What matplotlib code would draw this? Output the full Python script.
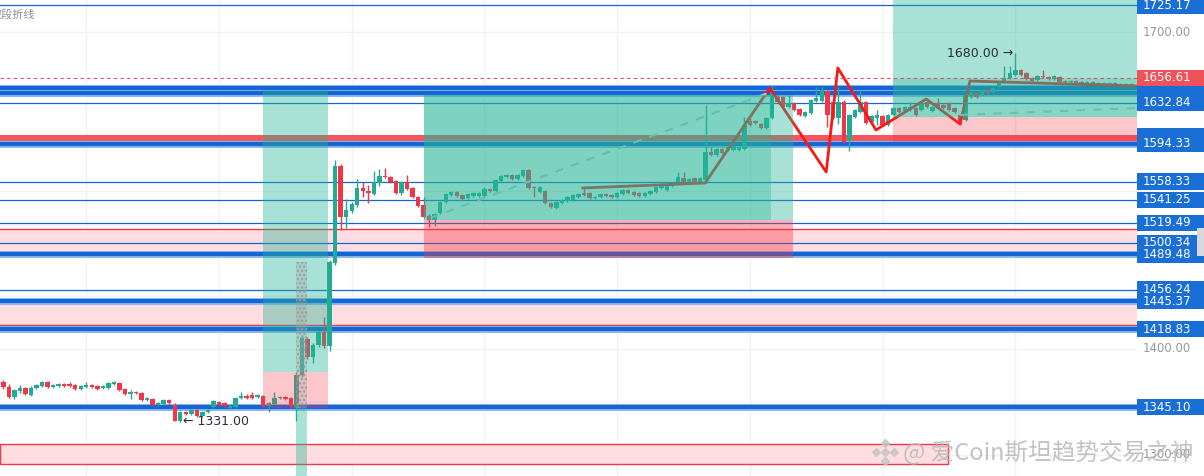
import matplotlib.pyplot as plt
from matplotlib.patches import Rectangle
from matplotlib.lines import Line2D
import numpy as np

plt.rcParams['font.family'] = ['Noto Sans CJK SC', 'DejaVu Sans']
plt.rcParams['hatch.color'] = '#9a9a9a'

# ---------------- candle data (one entry per bar) ----------------
opens = [
    1368.8, 1364.1, 1354.6, 1360.3, 1363.1, 1356.5, 1363.1, 1365.0, 1368.8, 1364.1,
    1365.0, 1366.9, 1366.9, 1365.9, 1362.2, 1364.1, 1365.9, 1365.0, 1363.1, 1363.1,
    1366.9, 1367.8, 1362.2, 1357.4, 1359.3, 1358.4, 1351.7, 1352.7, 1347.0, 1348.0,
    1351.7, 1347.0, 1331.9, 1340.4, 1338.5, 1342.3, 1336.6, 1340.4, 1345.1, 1349.9,
    1348.9, 1344.2, 1345.1, 1353.6, 1355.5, 1356.5, 1354.6, 1355.5, 1346.1, 1348.0,
    1353.6, 1354.6, 1353.6, 1344.2, 1375.4, 1409.5, 1392.4, 1403.8, 1416.1, 1402.8,
    1481.4, 1573.2, 1524.9, 1530.6, 1536.3, 1552.4, 1549.5, 1546.7, 1557.1, 1563.7,
    1562.8, 1559.0, 1547.6, 1558.1, 1552.4, 1543.9, 1536.3, 1525.9, 1522.1, 1528.7,
    1539.1, 1545.8, 1548.6, 1545.8, 1542.9, 1544.8, 1544.8, 1544.8, 1551.4, 1549.5,
    1559.0, 1562.8, 1564.7, 1560.9, 1563.7, 1569.4, 1553.3, 1548.6, 1549.5, 1538.2,
    1533.5, 1538.2, 1540.1, 1541.0, 1543.9, 1547.6, 1547.6, 1542.9, 1543.9, 1546.7,
    1545.8, 1543.9, 1546.7, 1550.5, 1548.6, 1547.6, 1544.8, 1546.7, 1548.6, 1552.4,
    1550.5, 1554.3, 1558.1, 1561.8, 1558.1, 1561.8, 1558.1, 1559.9, 1586.5, 1583.6,
    1589.3, 1588.3, 1588.3, 1588.3, 1589.3, 1615.8, 1615.8, 1612.9, 1609.2, 1618.6,
    1638.5, 1638.5, 1629.0, 1632.8, 1627.1, 1620.5, 1623.4, 1634.7, 1634.7, 1644.2,
    1633.8, 1618.6, 1633.8, 1597.8, 1619.6, 1624.3, 1633.8, 1614.8, 1618.6, 1620.5,
    1612.0, 1621.5, 1628.1, 1625.2, 1626.2, 1628.1, 1626.2, 1633.8, 1625.2, 1632.8,
    1630.9, 1632.8, 1628.1, 1621.5, 1616.7, 1638.5, 1642.3, 1640.4, 1645.1, 1643.2,
    1648.0, 1652.7, 1656.5, 1659.3, 1664.0, 1661.2, 1656.5, 1654.6, 1658.4, 1657.4,
    1655.5, 1657.4, 1653.6, 1652.7, 1653.6, 1652.7, 1650.8, 1652.7, 1650.8, 1651.7,
    1649.9, 1651.7, 1649.9, 1650.8, 1649.9]

closes = [
    1364.1, 1354.6, 1361.2, 1363.1, 1357.4, 1363.1, 1365.9, 1368.8, 1364.1, 1365.9,
    1366.9, 1365.0, 1365.0, 1362.2, 1365.0, 1365.9, 1364.1, 1362.2, 1365.0, 1367.8,
    1368.8, 1361.2, 1357.4, 1359.3, 1358.4, 1351.7, 1353.6, 1347.0, 1348.9, 1351.7,
    1348.9, 1331.9, 1340.4, 1338.5, 1342.3, 1336.6, 1340.4, 1342.3, 1350.8, 1347.0,
    1346.1, 1346.1, 1353.6, 1355.5, 1353.6, 1353.6, 1356.5, 1346.1, 1348.9, 1353.6,
    1354.6, 1352.7, 1346.1, 1375.4, 1410.4, 1392.4, 1403.8, 1416.1, 1402.8, 1482.3,
    1573.2, 1524.9, 1531.6, 1537.2, 1552.4, 1549.5, 1547.6, 1558.1, 1563.7, 1562.8,
    1558.1, 1547.6, 1558.1, 1551.4, 1543.9, 1535.3, 1524.9, 1522.1, 1527.8, 1539.1,
    1546.7, 1548.6, 1544.8, 1542.0, 1546.7, 1547.6, 1547.6, 1551.4, 1549.5, 1559.9,
    1563.7, 1564.7, 1560.9, 1564.7, 1569.4, 1552.4, 1552.4, 1553.3, 1538.2, 1534.4,
    1539.1, 1541.0, 1543.9, 1545.8, 1546.7, 1545.8, 1542.9, 1543.9, 1546.7, 1544.8,
    1543.9, 1547.6, 1550.5, 1547.6, 1545.8, 1544.8, 1547.6, 1549.5, 1553.3, 1555.2,
    1555.2, 1557.1, 1562.8, 1558.1, 1560.9, 1558.1, 1561.8, 1586.5, 1583.6, 1589.3,
    1585.5, 1591.2, 1592.1, 1591.2, 1612.0, 1612.0, 1613.9, 1609.2, 1618.6, 1643.2,
    1633.8, 1629.0, 1632.8, 1626.2, 1621.5, 1624.3, 1635.7, 1637.6, 1645.1, 1621.5,
    1618.6, 1633.8, 1595.9, 1621.5, 1626.2, 1633.8, 1613.9, 1620.5, 1621.5, 1612.0,
    1621.5, 1628.1, 1624.3, 1629.0, 1629.0, 1621.5, 1632.8, 1629.0, 1629.0, 1629.0,
    1628.1, 1626.2, 1624.3, 1612.9, 1640.4, 1642.3, 1638.5, 1645.1, 1642.3, 1647.0,
    1651.7, 1656.5, 1661.2, 1664.0, 1659.3, 1655.5, 1653.6, 1658.4, 1657.4, 1655.5,
    1658.4, 1652.7, 1652.7, 1653.6, 1651.7, 1651.7, 1652.7, 1650.8, 1651.7, 1649.9,
    1651.7, 1649.9, 1650.8, 1649.9, 1650.8]

highs = [
    1370.7, 1366.9, 1362.2, 1365.9, 1364.1, 1365.0, 1366.9, 1369.7, 1369.7, 1366.9,
    1367.8, 1367.8, 1368.8, 1366.9, 1365.9, 1368.8, 1366.9, 1365.9, 1365.9, 1368.8,
    1369.7, 1368.8, 1363.1, 1361.2, 1360.3, 1359.3, 1354.6, 1353.6, 1349.9, 1352.7,
    1352.7, 1348.9, 1341.3, 1341.3, 1343.2, 1343.2, 1341.3, 1343.2, 1351.7, 1350.8,
    1349.9, 1347.0, 1354.6, 1359.3, 1357.4, 1359.3, 1357.4, 1356.5, 1349.9, 1359.3,
    1355.5, 1355.5, 1354.6, 1378.2, 1413.3, 1411.4, 1405.7, 1418.0, 1430.3, 1484.2,
    1578.9, 1575.1, 1542.0, 1539.1, 1560.9, 1558.1, 1555.2, 1568.5, 1570.4, 1571.3,
    1563.7, 1559.9, 1559.0, 1564.7, 1553.3, 1544.8, 1543.9, 1527.8, 1528.7, 1540.1,
    1547.6, 1549.5, 1549.5, 1546.7, 1547.6, 1548.6, 1548.6, 1553.3, 1552.4, 1560.9,
    1564.7, 1565.6, 1565.6, 1565.6, 1570.4, 1570.4, 1554.3, 1554.3, 1550.5, 1539.1,
    1540.1, 1542.0, 1544.8, 1546.7, 1547.6, 1551.4, 1548.6, 1544.8, 1547.6, 1547.6,
    1546.7, 1548.6, 1551.4, 1551.4, 1549.5, 1548.6, 1548.6, 1550.5, 1554.3, 1556.1,
    1556.1, 1558.1, 1567.5, 1567.5, 1561.8, 1562.8, 1562.8, 1631.0, 1591.2, 1590.2,
    1590.2, 1592.1, 1593.1, 1592.1, 1619.6, 1618.6, 1616.7, 1613.9, 1619.6, 1649.9,
    1640.4, 1639.4, 1640.4, 1633.8, 1628.1, 1625.2, 1636.6, 1648.0, 1648.0, 1645.1,
    1634.7, 1648.0, 1635.7, 1622.4, 1627.1, 1645.1, 1634.7, 1621.5, 1626.2, 1621.5,
    1622.4, 1629.0, 1629.0, 1630.0, 1633.8, 1629.0, 1633.8, 1634.7, 1630.0, 1637.6,
    1631.9, 1633.8, 1629.0, 1622.4, 1643.2, 1643.2, 1643.2, 1646.1, 1646.1, 1648.0,
    1652.7, 1667.8, 1667.8, 1680.0, 1665.0, 1662.2, 1657.4, 1659.3, 1664.0, 1658.4,
    1659.3, 1658.4, 1654.6, 1654.6, 1654.6, 1653.6, 1653.6, 1653.6, 1652.7, 1652.7,
    1652.7, 1652.7, 1651.7, 1651.7, 1651.7]

lows = [
    1362.2, 1353.6, 1352.7, 1358.4, 1356.5, 1355.5, 1362.2, 1364.1, 1363.1, 1363.1,
    1364.1, 1364.1, 1364.1, 1361.2, 1361.2, 1363.1, 1363.1, 1361.2, 1362.2, 1362.2,
    1365.9, 1360.3, 1356.5, 1352.7, 1357.4, 1350.8, 1350.8, 1346.1, 1346.1, 1347.0,
    1348.0, 1331.5, 1331.0, 1337.5, 1337.5, 1335.6, 1335.6, 1339.4, 1344.2, 1346.1,
    1345.1, 1343.2, 1344.2, 1352.7, 1352.7, 1352.7, 1353.6, 1345.1, 1340.4, 1347.0,
    1352.7, 1351.7, 1344.2, 1331.9, 1373.5, 1390.5, 1386.8, 1401.9, 1401.0, 1398.1,
    1479.5, 1512.6, 1514.5, 1528.7, 1534.4, 1543.9, 1538.2, 1545.8, 1554.3, 1561.8,
    1557.1, 1546.7, 1545.8, 1550.5, 1542.9, 1534.4, 1524.0, 1515.5, 1516.4, 1527.8,
    1538.2, 1544.8, 1543.9, 1541.0, 1542.0, 1543.9, 1543.9, 1543.9, 1548.6, 1548.6,
    1558.1, 1561.8, 1559.9, 1559.9, 1562.8, 1551.4, 1543.9, 1547.6, 1537.2, 1533.5,
    1532.5, 1537.2, 1539.1, 1540.1, 1542.9, 1544.8, 1542.0, 1542.0, 1542.9, 1543.9,
    1542.9, 1542.9, 1545.8, 1546.7, 1544.8, 1543.9, 1543.9, 1545.8, 1547.6, 1551.4,
    1549.5, 1553.3, 1557.1, 1557.1, 1557.1, 1557.1, 1557.1, 1557.1, 1582.7, 1582.7,
    1584.6, 1587.4, 1587.4, 1587.4, 1588.3, 1611.0, 1612.9, 1608.2, 1608.2, 1617.7,
    1632.8, 1628.1, 1628.1, 1625.2, 1620.5, 1619.6, 1622.4, 1633.8, 1633.8, 1610.1,
    1617.7, 1612.9, 1595.0, 1587.4, 1618.6, 1623.4, 1612.9, 1613.9, 1612.0, 1611.0,
    1611.0, 1620.5, 1623.4, 1624.3, 1625.2, 1620.5, 1625.2, 1628.1, 1624.3, 1628.1,
    1627.1, 1625.2, 1623.4, 1612.0, 1615.8, 1637.6, 1637.6, 1639.4, 1641.3, 1642.3,
    1647.0, 1651.7, 1655.5, 1658.4, 1658.4, 1654.6, 1652.7, 1653.6, 1656.5, 1654.6,
    1654.6, 1651.7, 1650.8, 1651.7, 1650.8, 1650.8, 1649.9, 1649.9, 1649.9, 1648.9,
    1648.9, 1648.9, 1648.9, 1648.9, 1648.9]

# ---------------- horizontal levels ----------------
thin_levels = [1725.17, 1632.84, 1558.33, 1541.25, 1519.49, 1500.34, 1456.24]
thick_levels = [1647.0, 1642.3, 1594.33, 1489.48, 1445.37, 1418.83, 1345.10]
pink_bands = [(1489.5, 1513.6), (1422.7, 1445.0)]
red_band = (1597.3, 1602.6)
last_price = 1656.61

# zigzag drawing (bar index, price)
zz_x = [104.8, 126.9, 138.6, 148.8, 150.9, 157.8, 166.9, 173.0, 174.8, 205.0]
zz_y = [1552.4, 1557.1, 1647.0, 1567.5, 1666.0, 1607.3, 1636.6, 1612.9, 1653.6, 1648.9]

# price axis tags
hidden_tags = [1641.5, 1601.0]
tag_values = [1489.48, 1456.24, 1725.17, 1632.84, 1594.33, 1558.33, 1541.25,
              1519.49, 1500.34, 1445.37, 1418.83, 1345.10]
plain_ticks = [1700.00, 1400.00, 1300.00]

UP = '#22ab94'
DOWN = '#f23645'
BLUE = '#1466d6'
TEAL = '#26b496'

fig = plt.figure(figsize=(12.04, 4.76), dpi=100)
ax = fig.add_axes([0, 0, 1137 / 1204, 1])
ax.set_xlim(-0.6, 205.0)
ax.set_ylim(1279.8, 1730.3)
ax.axis('off')

# faint grid
for gx in [15, 39, 63, 87, 111, 135, 159, 183]:
    ax.axvline(gx, color='#f0f2f6', lw=1, zorder=0)
for gy in np.arange(1300, 1701, 50):
    ax.axhline(gy, color='#f0f2f6', lw=1, zorder=0)

# bands
for lo, hi in pink_bands:
    ax.axhspan(lo, hi, color='#ffdde0', lw=0, zorder=1)
    ax.axhline(lo, color=DOWN, lw=1, zorder=2)
    ax.axhline(hi, color=DOWN, lw=1, zorder=2)
ax.axhspan(red_band[0], red_band[1], color='#f4555f', lw=0, zorder=1)
ax.add_patch(Rectangle((-0.6, 1291.2), 171.4, 18.9, facecolor='#ffdde0',
                       edgecolor=DOWN, lw=1, zorder=1))

# level lines
ax.axhspan(1641.0, 1648.6, color='#9cc4f2', lw=0, zorder=1)
for lv in thin_levels:
    ax.axhline(lv, color=BLUE, lw=0.9, zorder=2)
for lv in thick_levels:
    ax.axhline(lv, color='#8ab8f0', lw=5, zorder=2)
    ax.axhline(lv, color=BLUE, lw=3, zorder=2)

# candles
x = np.arange(len(opens))
o = np.array(opens)
c = np.array(closes)
h = np.array(highs)
l = np.array(lows)
cols = np.where(c >= o, UP, DOWN)
ax.vlines(x, l, h, colors=cols, lw=1.0, zorder=3)
ax.bar(x, np.maximum(np.abs(c - o), 0.8), bottom=np.minimum(o, c), width=0.8,
       color=cols, zorder=3)

# zigzag + dashed helper lines
ax.plot(zz_x, zz_y, color='#f51a1a', lw=2, zorder=3.5)
ax.plot([77.2, 138.8], [1524.0, 1643.2], color='#c9cccc', lw=1.5, ls=(0, (4, 4)), zorder=3.5)
ax.plot([173, 205], [1621.5, 1628.1], color='#c9cccc', lw=1.5, ls=(0, (4, 4)), zorder=3.5)

# position boxes
def box(x0, x1, y0, y1, col, a, **kw):
    ax.add_patch(Rectangle((x0, y0), x1 - x0, y1 - y0, facecolor=col, alpha=a,
                           lw=0, zorder=4, **kw))

box(47.0, 58.7, 1378.2, 1645.1, TEAL, 0.4)
box(47.0, 58.7, 1344.2, 1378.2, DOWN, 0.28)
box(52.9, 54.9, 1279.0, 1344.2, TEAL, 0.4)
box(52.9, 54.9, 1344.2, 1482.3, '#a0a0a0', 0.3, hatch='....')
box(76.1, 138.8, 1522.1, 1640.4, TEAL, 0.6)
box(138.8, 142.8, 1522.1, 1640.4, TEAL, 0.4)
box(76.1, 142.8, 1486.1, 1522.1, DOWN, 0.38)
box(160.9, 206.0, 1619.6, 1740.0, TEAL, 0.4)
box(160.9, 206.0, 1619.6, 1656.5, TEAL, 0.25)
box(160.9, 206.0, 1595.9, 1619.6, DOWN, 0.28)

ax.axhline(last_price, color='#d9545c', lw=0.8, ls=(0, (3, 3)), zorder=5)

# high / low labels
ax.text(32.5, 1331.0, '\u2190 1331.00', fontsize=9, color='#2a2e39',
        family=['DejaVu Sans'], va='center', ha='left', zorder=6)
ax.text(182.6, 1680.0, '1680.00 \u2192', fontsize=9, color='#2a2e39',
        family=['DejaVu Sans'], va='center', ha='right', zorder=6)

# price axis
tr = ax.get_yaxis_transform()
def tag(p, text, col):
    ax.add_patch(Rectangle((1.0, p - 7.8), 67 / 1137, 15.6, transform=tr,
                           facecolor=col, lw=0, clip_on=False, zorder=7))
    if text:
        ax.text(1.0 + 30 / 1137, p, text, transform=tr, color='white', fontsize=8.5,
                family=['DejaVu Sans'], ha='center', va='center', clip_on=False, zorder=8)

for p in plain_ticks:
    ax.text(1.0 + 30 / 1137, p, '%.2f' % p, transform=tr, color='#9598a1', fontsize=8.5,
            family=['DejaVu Sans'], ha='center', va='center', clip_on=False, zorder=7)
for p in hidden_tags:
    tag(p, '', '#1a6fd6')
for p in tag_values:
    tag(p, '%.2f' % p, '#1a6fd6')
tag(last_price, '%.2f' % last_price, '#f0525a')

fig.patches.append(Rectangle((1197 / 1204, 1 - 256 / 476), 7 / 1204, 28 / 476,
                             transform=fig.transFigure, facecolor='#d7d9de', lw=0))

# top-left caption (clipped by the frame)
fig.text(-9 / 1204, 1 - 14 / 476, '波段折线', fontsize=8, color='#8a8e99', va='center')

# watermark
for dx, dy in [(0, 0), (-9, 0), (9, 0), (0, -9), (0, 9)]:
    fig.add_artist(Line2D([(885 + dx) / 1204], [1 - (452 + dy) / 476], marker='D',
                          markersize=4.5, color='#c4c4c4', alpha=0.8,
                          transform=fig.transFigure))
fig.text(903 / 1204, 1 - 453 / 476, '@ 爱Coin斯坦趋势交易之神', fontsize=17,
         color='#b8b8b8', alpha=0.85, va='center', ha='left')

fig.savefig('out.png', dpi=100)
